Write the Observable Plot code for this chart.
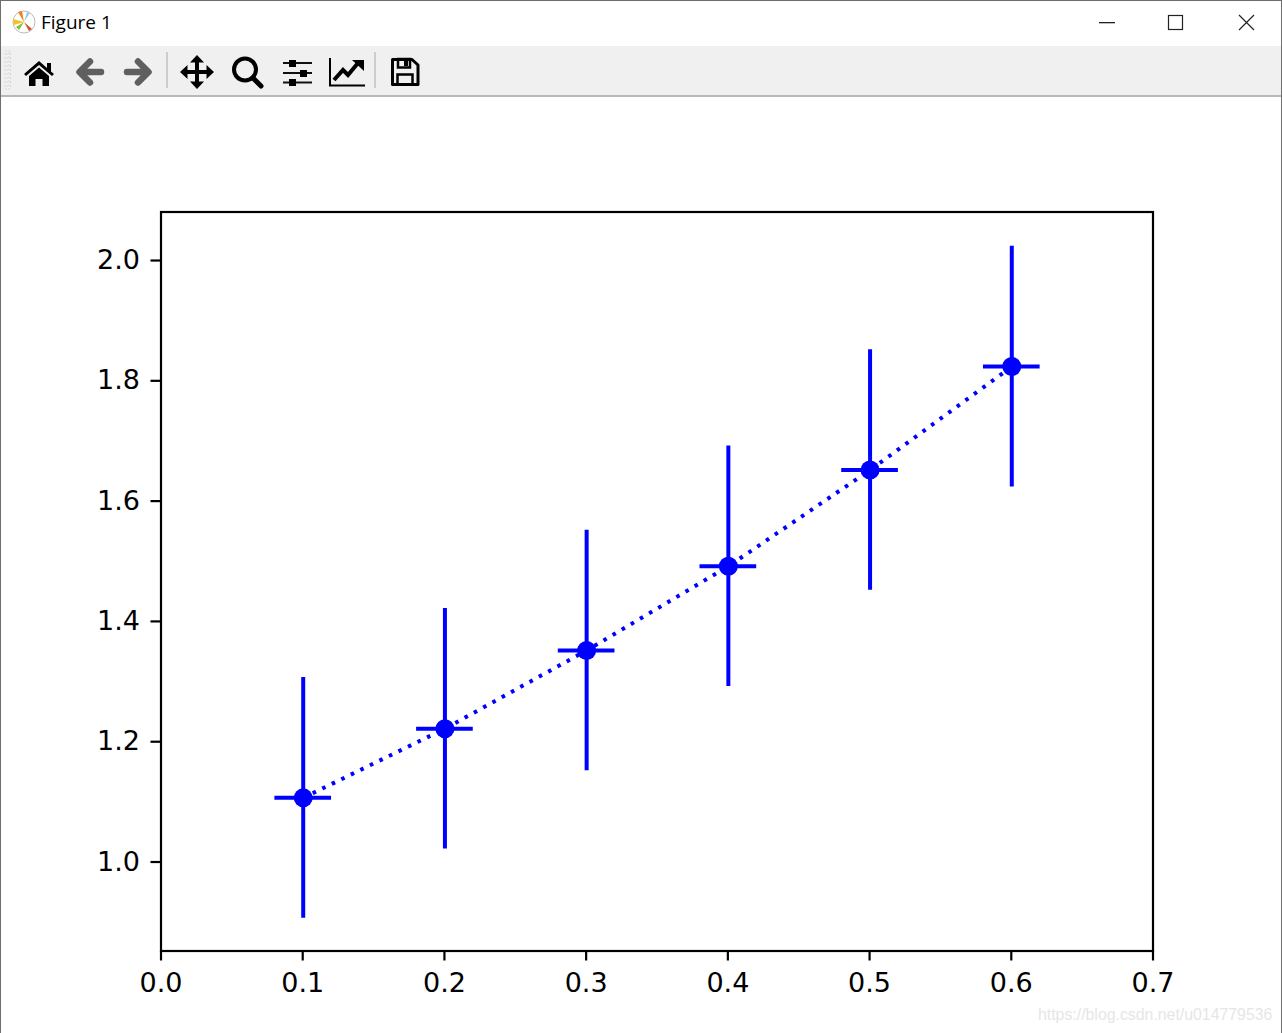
<!DOCTYPE html>
<html>
<head>
<meta charset="utf-8">
<script src="https://cdn.jsdelivr.net/npm/d3@7"></script>
<script src="https://cdn.jsdelivr.net/npm/@observablehq/plot@0.6"></script>
<style>
html,body{margin:0;padding:0;background:#fff;overflow:hidden;width:1282px;height:1033px}
#win{position:relative;width:1282px;height:1033px;overflow:hidden}
#chrome{display:block;width:1282px;height:97px}
#chart svg{display:block;background:#fff}
#edge{position:absolute;inset:0;border:1px solid #6e6e6e;border-bottom:none;pointer-events:none;box-sizing:border-box}
#mark{position:absolute;left:1038px;top:1006px;font:15.85px "Liberation Sans",Arial,sans-serif;color:#e6e6e6;white-space:nowrap}
</style>
</head>
<body>
<div id="win">
<svg id="chrome" viewBox="0 0 1282 97" xmlns="http://www.w3.org/2000/svg">
  <rect x="0" y="46" width="1282" height="49" fill="#f0f0f0"/>
  <rect x="0" y="95" width="1282" height="2" fill="#b8b8b8"/>
  <circle cx="24" cy="22" r="11" fill="#fff" stroke="#bbb" stroke-width="1"/>
  <path d="M24 22 L18 12 L22 11Z" fill="#f08020"/>
  <path d="M24 22 L13 19 L14 25Z" fill="#f5c020"/>
  <path d="M24 22 L32 29 L29 31Z" fill="#d05030"/>
  <path d="M24 22 L16 27 L19 30Z" fill="#80c040"/>
  <path d="M24 22 L30 13 L27 12Z" fill="#a0c8e0"/>
  <text x="41" y="29" font-family="Open Sans" font-size="19" fill="#000">Figure 1</text>
  <rect x="1099" y="22" width="16" height="1.3" fill="#222"/>
  <rect x="1168.5" y="15.5" width="14" height="14" fill="none" stroke="#222" stroke-width="1.2"/>
  <path d="M1239 15 L1254 30 M1254 15 L1239 30" stroke="#222" stroke-width="1.2" fill="none"/>
  <g fill="#c8c8c8">
    <rect x="5" y="51" width="2" height="38" fill="none" stroke="#cfcfcf" stroke-dasharray="1.5 2.5"/>
    <rect x="9" y="51" width="1.5" height="38" fill="none" stroke="#cfcfcf" stroke-dasharray="1.5 2.5"/>
  </g>
  <rect x="166" y="52" width="2" height="36" fill="#cdcdcd"/>
  <rect x="374" y="52" width="2" height="36" fill="#cdcdcd"/>
  <path d="M39 61 L47 68 L47 63 L51 63 L51 71.500 L54 74 L52 76 L39 65 L26 76 L24 74Z M29 76 L39 67.500 L49 76 L49 86 L42.500 86 L42.500 79 L35.500 79 L35.500 86 L29 86Z" fill="#000"/>
  <path d="M101 72 H80 M90 61.500 L79.500 72 L90 82.500" stroke="#5f5f5f" stroke-width="6.500" fill="none" stroke-linecap="round" stroke-linejoin="round"/>
  <path d="M127 72 H148 M138 61.500 L148.500 72 L138 82.500" stroke="#5f5f5f" stroke-width="6.500" fill="none" stroke-linecap="round" stroke-linejoin="round"/>
  <path d="M197 58 V86 M183 72 H211" stroke="#000" stroke-width="4" fill="none"/>
  <path d="M197 55 L204 62.500 H190Z M197 89 L204 81.500 H190Z M180 72 L187.500 65 V79Z M214 72 L206.500 65 V79Z" fill="#000"/>
  <circle cx="245" cy="69.500" r="11" fill="none" stroke="#000" stroke-width="4"/>
  <path d="M253 78 L261 86" stroke="#000" stroke-width="5" stroke-linecap="round"/>
  <path d="M283 63 H312 M283 73 H312 M283 82.500 H312" stroke="#111" stroke-width="2"/>
  <rect x="289" y="60" width="7" height="7" fill="#000"/>
  <rect x="300" y="70" width="7" height="7" fill="#000"/>
  <rect x="289" y="79" width="7" height="7" fill="#000"/>
  <path d="M330 58 V85.500 H365" stroke="#000" stroke-width="2" fill="none"/>
  <path d="M334 80 L343 70 L348 75 L358 63" stroke="#000" stroke-width="4" fill="none"/>
  <path d="M352 60 H364 V71Z" fill="#000"/>
  <path d="M392.500 59.500 H412 L418 65 V84.500 H392.500Z" fill="none" stroke="#000" stroke-width="3" stroke-linejoin="round"/>
  <rect x="398" y="59" width="12" height="8.500" fill="none" stroke="#000" stroke-width="2.500"/>
  <rect x="404" y="60" width="4" height="6" fill="#000"/>
  <rect x="397.500" y="74.500" width="15" height="10" fill="none" stroke="#000" stroke-width="2.500"/>
</svg>
<div id="chart"></div>
<div id="edge"></div>
<div id="mark">https://blog.csdn.net/u014779536</div>
</div>
<script>
const xValues = [0.1, 0.2, 0.3, 0.4, 0.5, 0.6];
const yValues = [1.105, 1.22, 1.35, 1.49, 1.65, 1.822];
const yErr = 0.2;
const xErr = 0.02;
const xTicks = [0, 0.1, 0.2, 0.3, 0.4, 0.5, 0.6, 0.7];
const yTicks = [1.0, 1.2, 1.4, 1.6, 1.8, 2.0];
const rows = xValues.map((x, i) => ({x, y: yValues[i]}));
const blue = "#0000ff";

const plot = Plot.plot({
  width: 1282,
  height: 936,
  marginLeft: 160.5,
  marginRight: 129.5,
  marginTop: 114.5,
  marginBottom: 82.5,
  style: {fontFamily: "DejaVu Sans", fontSize: "27px", color: "#000", background: "#fff"},
  x: {domain: [0, 0.7], label: null},
  y: {domain: [0.8504, 2.079], label: null},
  marks: [
    Plot.line(rows, {x: "x", y: "y", dx: 0.5, stroke: blue, strokeWidth: 4, strokeDasharray: "3.6 7", strokeLinecap: "butt"}),
    Plot.ruleX(rows, {x: "x", y1: d => d.y - yErr, y2: d => d.y + yErr, dx: 0.5, stroke: blue, strokeWidth: 4}),
    Plot.ruleY(rows, {y: "y", x1: d => d.x - xErr, x2: d => d.x + xErr, dx: 0.5, stroke: blue, strokeWidth: 4}),
    Plot.dot(rows, {x: "x", y: "y", dx: 0.5, r: 9.5, fill: blue}),
    Plot.frame({stroke: "#000", strokeWidth: 2.2}),
    Plot.axisX({ticks: xTicks, tickFormat: d3.format(".1f"), tickSize: 10, tickPadding: 12, strokeWidth: 2.2, label: null, fontSize: 27}),
    Plot.axisY({ticks: yTicks, tickFormat: d3.format(".1f"), tickSize: 10, tickPadding: 11, strokeWidth: 2.2, label: null, fontSize: 27, dy: 1})
  ]
});
document.getElementById("chart").appendChild(plot);
</script>
</body>
</html>
